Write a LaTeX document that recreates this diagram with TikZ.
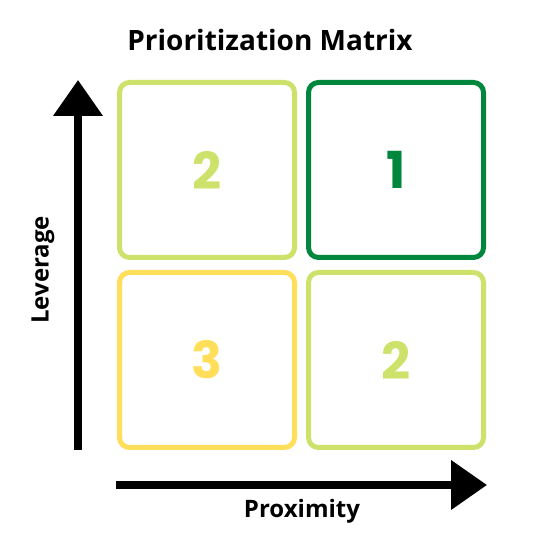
\documentclass[tikz,border=0pt]{standalone}
\usepackage{fontspec}
\setmainfont{Open Sans}
\newfontfamily\numfont{Poppins}
\usetikzlibrary{arrows.meta,positioning}
\definecolor{lightgrn}{HTML}{CDE26A}
\definecolor{darkgrn}{HTML}{00873D}
\definecolor{sunyellow}{HTML}{FFDE59}

\begin{document}
\begin{tikzpicture}[x=1pt,y=1pt,
  cell/.style={draw=#1,line width=5pt,rounded corners=10pt,minimum size=175pt,
    text=#1,font=\numfont\bfseries\fontsize{51}{51}\selectfont},
  axis/.style={line width=7.5pt,-{Triangle[width=48pt,length=36pt]}},
  lbl/.style={font=\bfseries\fontsize{24}{24}\selectfont}]
  \useasboundingbox (0,0) rectangle (540,540);
  % 标题
  \node[font=\bfseries\fontsize{28}{28}\selectfont] (title) at (270,500) {Prioritization Matrix};

  % 四个象限
  \node[cell=lightgrn] (q2a) at (207,370) {2};
  \node[cell=darkgrn,right=9pt of q2a] (q1) {1};
  \node[cell=sunyellow,below=10pt of q2a] (q3) {3};
  \node[cell=lightgrn,right=9pt of q3] (q2b) {2};

  % 坐标轴
  \coordinate (ybot) at (78,90);
  \coordinate (ytop) at (78,460);
  \coordinate (xleft) at (116,55);
  \coordinate (xright) at (487,55);
  \draw[axis] (ybot) -- (ytop);
  \draw[axis] (xleft) -- (xright);
  \node[lbl,rotate=90] (lev) at (43,270) {Leverage};
  \node[lbl] (prox) at (302,29) {Proximity};
\end{tikzpicture}
\end{document}
